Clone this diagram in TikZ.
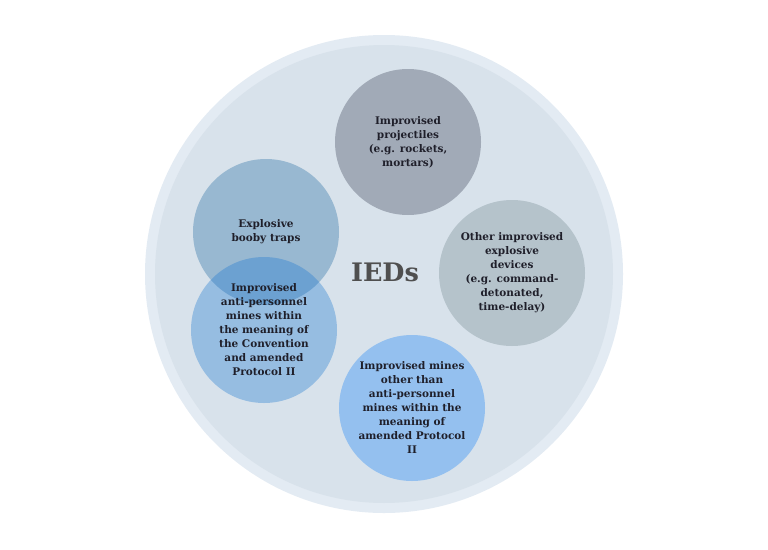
\documentclass[tikz,border=0pt]{standalone}
\usepackage{fontspec}
\setmainfont{DejaVu Serif}
\usepackage{tikz}
\usetikzlibrary{positioning}
\definecolor{ringout}{HTML}{E3EBF3}
\definecolor{ringin}{HTML}{D8E2EB}
\definecolor{projgrey}{HTML}{A1AAB7}
\definecolor{othergrey}{HTML}{B5C3CB}
\definecolor{boobyblue}{HTML}{98B8D1}
\definecolor{apblue}{RGB}{27,120,209}
\definecolor{mineblue}{HTML}{94C0EF}
\definecolor{ink}{HTML}{1F1F2A}
\definecolor{iedgrey}{HTML}{4F4F4F}
\tikzset
{
    ringdisc/.style = {circle, inner sep=0pt},
    bubble/.style   = {circle, minimum size=146pt, inner sep=0pt, align=center, text=ink, font=\bfseries\fontsize{10.5}{14}\selectfont}
}

\begin{document}
\begin{tikzpicture}[x=1pt, y=-1pt]
    \useasboundingbox (0,0) rectangle (768,549);
    % outer ring and inner disc
    \node [ringdisc, fill=ringout, minimum size=478pt] (outer) at (384,274) {};
    \node [ringdisc, fill=ringin, minimum size=458pt] (inner) at (384,274) {};
    \node [font=\bfseries\fontsize{25.5}{30}\selectfont, text=iedgrey] (ieds) at (385,272) {IEDs};
    % the five kinds
    \node [bubble, fill=projgrey] (proj) at (408,142) {Improvised\\projectiles\\(e.g. rockets,\\mortars)};
    \node [bubble, fill=othergrey] (other) at (512,273) {Other improvised\\explosive\\devices\\(e.g. command-\\detonated,\\time-delay)};
    \node [bubble, fill=boobyblue] (booby) at (266,232) {Explosive\\booby traps};
    \node [bubble, fill=apblue, fill opacity=0.35, text opacity=1] (apmines) at (264,330) {Improvised\\anti-personnel\\mines within\\the meaning of\\the Convention\\and amended\\Protocol II};
    \node [bubble, fill=mineblue] (mines) at (412,408) {Improvised mines\\other than\\anti-personnel\\mines within the\\meaning of\\amended Protocol\\II};
\end{tikzpicture}
\end{document}
